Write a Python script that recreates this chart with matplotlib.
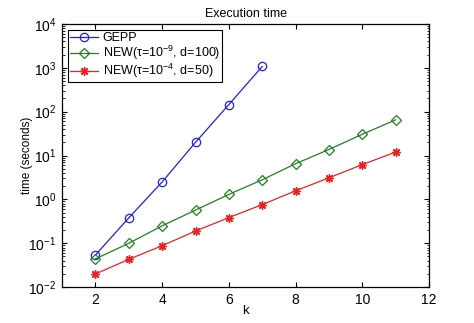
import numpy as np
import matplotlib
matplotlib.use("Agg")
import matplotlib.pyplot as plt
from matplotlib.ticker import LogLocator, NullFormatter

plt.rcParams['font.family'] = ['Liberation Sans', 'DejaVu Sans']
plt.rcParams['mathtext.fontset'] = 'custom'
plt.rcParams['mathtext.rm'] = 'Liberation Sans'
plt.rcParams['mathtext.it'] = 'Liberation Sans:italic'

# timings per k
k_gepp = [2, 3, 4, 5, 6, 7]
t_gepp = [0.054, 0.38, 2.5, 20, 145, 1070]

k_new = [2, 3, 4, 5, 6, 7, 8, 9, 10, 11]
t_new9 = [0.044, 0.10, 0.25, 0.57, 1.3, 2.8, 6.5, 13.7, 30.5, 65]
t_new4 = [0.020, 0.043, 0.088, 0.19, 0.385, 0.76, 1.57, 3.1, 6.2, 12]

labels = ['GEPP', 'NEW(\u03c4=10$^{-9}$, d=100)', 'NEW(\u03c4=10$^{-4}$, d=50)']

fig = plt.figure(figsize=(4.74, 3.23), dpi=100)
ax = fig.add_axes([0.131, 0.111, 0.774, 0.815])

ax.semilogy(k_gepp, t_gepp, color='#2020e0', lw=0.9, marker='o', ms=6,
            mfc='none', mec='#2020e0', mew=0.9, label=labels[0])
ax.semilogy(k_new, t_new9, color='#208020', lw=0.9, marker='D', ms=5,
            mfc='none', mec='#208020', mew=0.9, label=labels[1])
ax.semilogy(k_new, t_new4, color='#f02020', lw=0.9, marker=(8, 2, 0), ms=6,
            mfc='#f02020', mec='#f02020', mew=1.0, label=labels[2])

ax.set_xlim(1, 12)
ax.set_ylim(1e-2, 1e4)
ax.set_xticks([2, 4, 6, 8, 10, 12])
ax.yaxis.set_major_locator(LogLocator(base=10, numticks=10))
ax.yaxis.set_minor_locator(LogLocator(base=10, subs=np.arange(2, 10), numticks=10))
ax.yaxis.set_minor_formatter(NullFormatter())
ax.tick_params(which='both', direction='in', top=True, right=True, labelsize=10)
ax.tick_params(which='major', length=3.5, pad=4)
ax.tick_params(which='minor', length=1.8)
for s in ax.spines.values():
    s.set_linewidth(0.9)

ax.set_title('Execution time', fontsize=9, pad=5)
ax.set_xlabel('k', fontsize=9.5, labelpad=-1)
ax.set_ylabel('time (seconds)', fontsize=8.5)
ax.yaxis.set_label_coords(-0.08, 0.5)

leg = ax.legend(loc='upper left', fontsize=9, fancybox=False, edgecolor='black',
                framealpha=1, handlelength=2.2, handletextpad=0.4, borderpad=0.15,
                labelspacing=0.0, borderaxespad=0.5)
leg.get_frame().set_linewidth(0.8)

fig.savefig('out.png', dpi=100)
